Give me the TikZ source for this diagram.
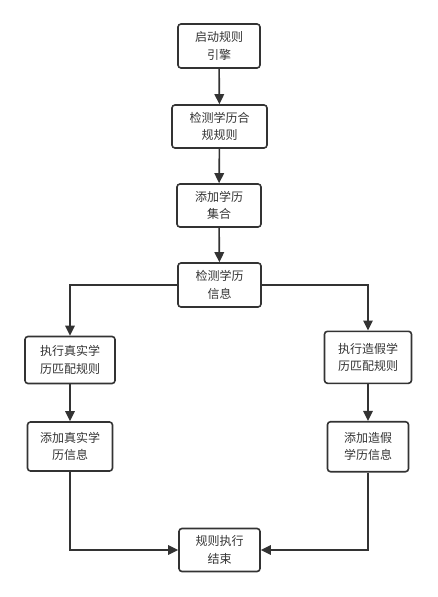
\documentclass[tikz,border=0pt]{standalone}
\usepackage{fontspec}
\setmainfont{Noto Sans CJK SC}
\usetikzlibrary{arrows.meta}
\definecolor{ln}{HTML}{333333}
\begin{document}
\begin{tikzpicture}[x=1pt,y=-1pt,
  box/.style={draw=ln,line width=1.6pt,rounded corners=3pt,align=center,inner sep=0pt,
    text=ln,font=\fontsize{12}{17.5}\selectfont},
  conn/.style={draw=ln,line width=1.6pt,-{Triangle[length=10pt,width=9.5pt]}}]
\useasboundingbox (0,0) rectangle (437,597);
\node[box,minimum width=82pt,minimum height=44pt] (b1) at (219,46) {启动规则\\引擎};
\node[box,minimum width=95pt,minimum height=43pt] (b2) at (219.5,126.5) {检测学历合\\规规则};
\node[box,minimum width=84pt,minimum height=43pt] (b3) at (219,205.5) {添加学历\\集合};
\node[box,minimum width=83pt,minimum height=44pt] (b4) at (219.5,285) {检测学历\\信息};
\node[box,minimum width=90pt,minimum height=47pt] (la) at (70,360) {执行真实学\\历匹配规则};
\node[box,minimum width=85pt,minimum height=49pt] (lb) at (70,446.5) {添加真实学\\历信息};
\node[box,minimum width=87pt,minimum height=52pt] (ra) at (368,357.3) {执行造假学\\历匹配规则};
\node[box,minimum width=81pt,minimum height=50pt] (rb) at (368,446.7) {添加造假\\学历信息};
\node[box,minimum width=81pt,minimum height=43pt] (en) at (219.5,550) {规则执行\\结束};
\draw[conn] (b1) -- (b2);
\draw[conn] (b2) -- (b3);
\draw[conn] (b3) -- (b4);
\draw[conn] (b4.west) -| (la.north);
\draw[conn] (b4.east) -| (ra.north);
\draw[conn] (la) -- (lb);
\draw[conn] (ra) -- (rb);
\draw[conn] (lb.south) |- (en.west);
\draw[conn] (rb.south) |- (en.east);
\end{tikzpicture}
\end{document}
